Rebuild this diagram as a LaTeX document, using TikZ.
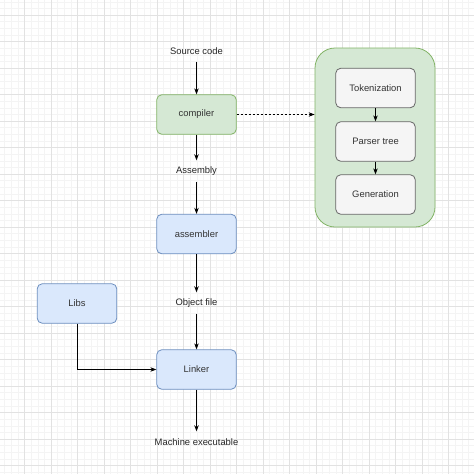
\documentclass[tikz,border=0pt]{standalone}
\usepackage{fontspec}
\setmainfont{Liberation Sans}
\usetikzlibrary{arrows.meta}
\definecolor{greenfill}{HTML}{D5E8D4}
\definecolor{greenline}{HTML}{82B366}
\definecolor{bluefill}{HTML}{DAE8FC}
\definecolor{blueline}{HTML}{6C8EBF}
\definecolor{grayfill}{HTML}{F5F5F5}
\definecolor{grayline}{HTML}{666666}
\definecolor{gridmajor}{HTML}{E2E2E2}
\definecolor{gridminor}{HTML}{F4F4F4}

\begin{document}
\begin{tikzpicture}[x=1pt, y=-1pt, font=\fontsize{9.4}{11}\selectfont,
    box/.style={draw, rounded corners=5pt, minimum width=79.5pt, minimum height=39.5pt, line width=0.8pt, text=black!80},
    greenbox/.style={box, fill=greenfill, draw=greenline},
    bluebox/.style={box, fill=bluefill, draw=blueline},
    graybox/.style={box, fill=grayfill, draw=grayline},
    textlabel/.style={minimum height=21pt, inner sep=0pt, text=black!85},
    arr/.style={-{Stealth[length=6pt, width=4.5pt]}, line width=0.8pt}]
    \useasboundingbox (0,0) rectangle (474,474);
    \fill[white] (0,0) rectangle (474,474);

    % grid
    \foreach \i in {-3,...,68} \draw[gridminor, line width=0.5pt] ({24.5+6.625*\i},0) -- ({24.5+6.625*\i},474);
    \foreach \j in {-2,...,69} \draw[gridminor, line width=0.5pt] (0,{15+6.625*\j}) -- (474,{15+6.625*\j});
    \foreach \i in {0,...,17} \draw[gridmajor, line width=0.6pt] ({24.5+26.5*\i},0) -- ({24.5+26.5*\i},474);
    \foreach \j in {0,...,17} \draw[gridmajor, line width=0.6pt] (0,{15+26.5*\j}) -- (474,{15+26.5*\j});

    \node[textlabel] at (196.5, 51) (source) {Source code};
    \node[greenbox] at (196.5, 114.5) (compiler) {compiler};
    \node[textlabel] at (196.5, 171) (assembly) {Assembly};
    \node[bluebox] at (196.5, 234) (assembler) {assembler};
    \node[textlabel] at (196.5, 303) (objfile) {Object file};
    \node[bluebox] at (196.5, 369.5) (linker) {Linker};
    \node[textlabel] at (196.5, 442) (exe) {Machine executable};
    \node[bluebox] at (77, 303.5) (libs) {Libs};

    \node[draw=greenline, fill=greenfill, line width=0.8pt, rounded corners=20pt, minimum width=120pt, minimum height=179pt] at (375, 137.5) (stages) {};
    \node[graybox] at (375.5, 88) (token) {Tokenization};
    \node[graybox] at (375.5, 141.5) (parser) {Parser tree};
    \node[graybox] at (375.5, 194.5) (gen) {Generation};

    \draw[arr] (source) edge (compiler);
    \draw[arr] (compiler) edge (assembly);
    \draw[arr] (assembly) edge (assembler);
    \draw[arr] (assembler) edge (objfile);
    \draw[arr] (objfile) edge (linker);
    \draw[arr] (linker) edge (exe);
    \draw[arr] (libs.south) |- (linker.west);
    \draw[arr, dash pattern=on 2pt off 2pt] (compiler.east) -- (compiler.east -| stages.west);
    \draw[arr] (token) edge (parser);
    \draw[arr] (parser) edge (gen);
\end{tikzpicture}
\end{document}
